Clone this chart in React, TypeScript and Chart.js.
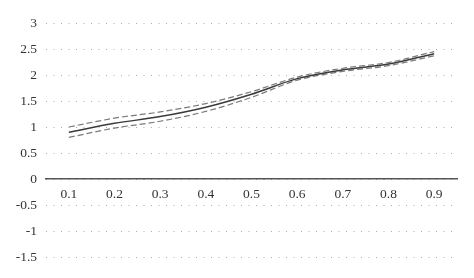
import React, { useEffect, useRef } from "react";
import { Chart, registerables } from "chart.js";

Chart.register(...registerables);

const categories = ["0.1", "0.2", "0.3", "0.4", "0.5", "0.6", "0.7", "0.8", "0.9"];
const meanValues = [0.9, 1.07, 1.2, 1.38, 1.63, 1.93, 2.1, 2.21, 2.41];
const upperValues = [1.0, 1.17, 1.29, 1.45, 1.68, 1.96, 2.13, 2.24, 2.45];
const lowerValues = [0.8, 0.98, 1.11, 1.3, 1.57, 1.9, 2.07, 2.18, 2.37];
const yMin = -1.5;
const yMax = 3;
const yStep = 0.5;

export default function App() {
  const canvasRef = useRef<HTMLCanvasElement | null>(null);

  useEffect(() => {
    document.body.style.margin = "0";
    const canvas = canvasRef.current;
    if (!canvas) return;
    const font = { family: "'Liberation Serif', 'Times New Roman', serif", size: 13.5 };
    const chart = new Chart(canvas, {
      type: "line",
      data: {
        labels: categories,
        datasets: [
          {
            data: upperValues,
            borderColor: "#7a7a7a",
            borderWidth: 1.2,
            borderDash: [6, 3],
            pointRadius: 0,
            fill: false,
            cubicInterpolationMode: "monotone",
          },
          {
            data: meanValues,
            borderColor: "#3a3a3a",
            borderWidth: 1.5,
            pointRadius: 0,
            fill: false,
            cubicInterpolationMode: "monotone",
          },
          {
            data: lowerValues,
            borderColor: "#7a7a7a",
            borderWidth: 1.2,
            borderDash: [6, 3],
            pointRadius: 0,
            fill: false,
            cubicInterpolationMode: "monotone",
          },
        ],
      },
      options: {
        animation: false,
        responsive: false,
        maintainAspectRatio: false,
        layout: { padding: { left: 0, right: 17, top: 23, bottom: 21 } },
        plugins: { legend: { display: false }, tooltip: { enabled: false } },
        scales: {
          x: {
            type: "category",
            position: { y: 0 },
            offset: true,
            grid: { display: false, drawTicks: false },
            border: { display: true, color: "#555555", width: 1.5 },
            ticks: { color: "#333333", font, padding: 7, maxRotation: 0 },
          },
          y: {
            type: "linear",
            min: yMin,
            max: yMax,
            ticks: {
              stepSize: yStep,
              color: "#333333",
              font,
              padding: 9,
              callback: (v: any) => String(Number(v)),
            },
            grid: { color: "#aaaaaa", lineWidth: 1, drawTicks: false },
            border: { display: false, dash: [1, 6.5] },
            afterFit: (scale: any) => {
              scale.width = 46;
            },
          },
        },
      },
    });
    return () => chart.destroy();
  }, []);

  return (
    <div style={{ width: 474, height: 278 }}>
      <canvas ref={canvasRef} width={474} height={278} style={{ display: "block" }} />
    </div>
  );
}
